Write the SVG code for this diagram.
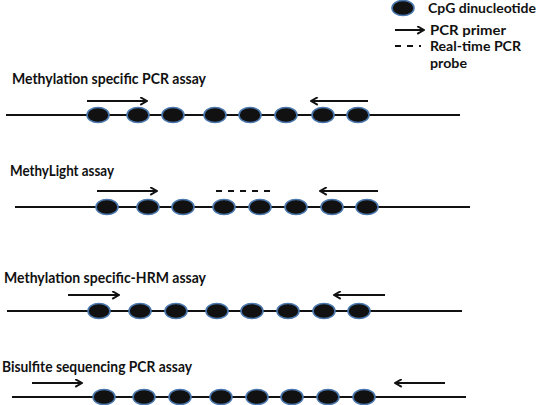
<svg xmlns="http://www.w3.org/2000/svg" width="542" height="405" viewBox="0 0 542 405">
<style>
.t{font-family:Lato,"Open Sans","Liberation Sans",sans-serif;font-weight:bold;font-size:15px;fill:#111}
.l{font-size:14px}
.dna{stroke:#111;stroke-width:2;fill:none}
.cpg{fill:#111;stroke:#4a77ad;stroke-width:1.6}
.pr{stroke:#111;stroke-width:2;fill:none}
.pb{stroke:#111;stroke-width:2;fill:none;stroke-dasharray:6 6}
</style>
<defs>
<marker id="ah" viewBox="0 0 10 10" refX="9" refY="5" markerWidth="9" markerHeight="9" orient="auto" markerUnits="userSpaceOnUse">
<path d="M1.5,0.8 L9,5 L1.5,9.2" fill="none" stroke="#111" stroke-width="2.2"/>
</marker>
<ellipse id="e" cx="0" cy="0" rx="11" ry="7.5" class="cpg"/>
</defs>
<rect width="542" height="405" fill="#fff"/>

<g id="legend">
<use href="#e" x="403" y="8"/>
<text class="t l" x="428" y="13" textLength="108" lengthAdjust="spacingAndGlyphs">CpG dinucleotide</text>
<line class="pr" x1="395" y1="30" x2="424" y2="30" marker-end="url(#ah)"/>
<text class="t l" x="430" y="35" textLength="76" lengthAdjust="spacingAndGlyphs">PCR primer</text>
<line class="pb" x1="395" y1="46" x2="421" y2="46" stroke-dasharray="5 5.5"/>
<text class="t l" x="430" y="51" textLength="91" lengthAdjust="spacingAndGlyphs">Real-time PCR</text>
<text class="t l" x="430" y="68" textLength="37" lengthAdjust="spacingAndGlyphs">probe</text>
</g>

<g id="msp">
<text class="t" x="12" y="84" textLength="194" lengthAdjust="spacingAndGlyphs">Methylation specific PCR assay</text>
<line class="dna" x1="6" y1="115" x2="460" y2="115"/>
<use href="#e" x="98" y="115"/><use href="#e" x="138" y="115"/><use href="#e" x="173" y="115"/><use href="#e" x="215" y="115"/>
<use href="#e" x="250" y="115"/><use href="#e" x="286" y="115"/><use href="#e" x="323" y="115"/><use href="#e" x="358" y="115"/>
</g>

<g id="methylight">
<text class="t" x="10" y="176" textLength="104" lengthAdjust="spacingAndGlyphs">MethyLight assay</text>
<line class="dna" x1="15" y1="207" x2="470" y2="207"/>
<use href="#e" x="107" y="207"/><use href="#e" x="148" y="207"/><use href="#e" x="183" y="207"/><use href="#e" x="224" y="207"/>
<use href="#e" x="260" y="207"/><use href="#e" x="296" y="207"/><use href="#e" x="332" y="207"/><use href="#e" x="367" y="207"/>
</g>

<g id="mshrm">
<text class="t" x="4" y="283" textLength="202" lengthAdjust="spacingAndGlyphs">Methylation specific-HRM assay</text>
<line class="dna" x1="7" y1="311" x2="462" y2="311"/>
<use href="#e" x="99" y="311"/><use href="#e" x="140" y="311"/><use href="#e" x="176" y="311"/><use href="#e" x="217" y="311"/>
<use href="#e" x="252" y="311"/><use href="#e" x="288" y="311"/><use href="#e" x="324" y="311"/><use href="#e" x="359" y="311"/>
</g>

<g id="bsp">
<text class="t" x="2" y="372" textLength="190" lengthAdjust="spacingAndGlyphs">Bisulfite sequencing PCR assay</text>
<line class="dna" x1="12" y1="397" x2="466" y2="397"/>
<use href="#e" x="104" y="397"/><use href="#e" x="144" y="397"/><use href="#e" x="180" y="397"/><use href="#e" x="221" y="397"/>
<use href="#e" x="257" y="397"/><use href="#e" x="292" y="397"/><use href="#e" x="328" y="397"/><use href="#e" x="364" y="397"/>
</g>

<g id="connectors">
<line class="pr" x1="87" y1="101" x2="147" y2="101" marker-end="url(#ah)"/>
<line class="pr" x1="368" y1="101" x2="311" y2="101" marker-end="url(#ah)"/>
<line class="pr" x1="97" y1="191" x2="157" y2="191" marker-end="url(#ah)"/>
<line class="pb" x1="216" y1="191" x2="270" y2="191"/>
<line class="pr" x1="378" y1="191" x2="320" y2="191" marker-end="url(#ah)"/>
<line class="pr" x1="68" y1="295" x2="119" y2="295" marker-end="url(#ah)"/>
<line class="pr" x1="385" y1="295" x2="334" y2="295" marker-end="url(#ah)"/>
<line class="pr" x1="32" y1="383" x2="82" y2="383" marker-end="url(#ah)"/>
<line class="pr" x1="445" y1="383" x2="395" y2="383" marker-end="url(#ah)"/>
</g>
</svg>
